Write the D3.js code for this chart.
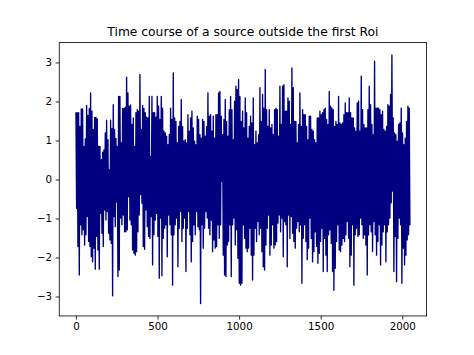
<!DOCTYPE html>
<html>
<head>
<meta charset="utf-8">
<script src="https://cdn.jsdelivr.net/npm/d3@7"></script>
<style>
  body { margin: 0; background: #fff; }
  svg { display: block; }
</style>
</head>
<body>
<svg></svg>
<script>
const title = 'Time course of a source outside the first Roi';
const nSamples = 2048;
const xTicks = [0, 500, 1000, 1500, 2000];
const yTicks = [-3, -2, -1, 0, 1, 2, 3];

// upper edge of the trace, read left to right off the picture
const peaks = [
    1.71, 1.71, 1.71, 1.36, 1.81, 1.81, 0.85, 1.04, 1.90, 1.64,
    1.82, 2.22, 1.75, 1.28, 1.59, 1.59, 1.55, 0.85, 0.85, 0.51,
    0.70, 0.76, 1.19, 1.52, 1.02, 0.25, 1.52, 1.31, 1.92, 1.28,
    1.05, 0.85, 2.13, 2.13, 0.94, 1.82, 1.82, 1.85, 2.62, 2.22,
    1.88, 1.91, 1.41, 1.58, 0.85, 1.71, 1.79, 1.75, 2.69, 1.28,
    1.90, 1.82, 1.71, 1.60, 1.58, 2.13, 0.59, 2.13, 1.71, 1.71,
    1.60, 2.13, 1.88,
    1.54, 2.13, 1.83, 1.24, 1.19, 1.11, 0.89, 1.15, 1.83, 1.54,
    2.73, 1.58, 1.49, 0.94, 1.36, 1.49, 2.05, 1.36, 0.98, 1.02,
    0.94, 1.66, 1.24, 1.58, 1.75, 1.32, 0.98, 0.89, 1.62, 1.54,
    1.15, 1.06, 1.54, 1.49, 1.11, 1.36, 2.22, 1.62, 1.66, 1.24,
    1.62, 1.06, 1.66, 1.66, 2.22, 2.26, 1.62, 1.15, 1.54, 2.05,
    1.49, 1.11, 1.79, 2.13, 1.79, 1.02, 2.01, 2.39, 2.31, 2.56,
    2.13, 1.49, 1.75, 1.32, 2.09, 1.71, 1.06, 1.36, 1.62, 1.45,
    2.09, 0.89, 1.24, 0.94, 1.15, 2.35, 1.49, 2.18, 1.83, 2.82,
    1.79, 1.36, 1.79, 1.32, 1.41, 1.15, 1.79, 1.83, 1.79, 1.11,
    2.39, 1.41,
    2.39, 2.43, 1.75, 1.75, 2.09, 2.01, 1.41, 2.86, 2.35, 1.49,
    1.49, 0.94, 1.41, 2.22, 1.36, 1.79, 1.66, 1.66, 1.36, 1.02,
    1.62, 1.62, 1.28, 1.24, 1.02, 0.94, 1.58, 1.58, 1.75, 1.66,
    1.71, 1.79, 1.83, 1.54, 1.41, 2.26, 1.88, 1.83, 1.79, 1.36,
    1.49, 1.41, 2.13, 1.45, 1.41, 1.45, 1.66, 1.96, 1.71, 1.71,
    2.09, 1.71, 1.58, 1.58, 1.32, 1.24, 1.96, 2.01, 1.24, 2.65,
    1.79, 1.41, 1.32, 1.32, 1.79, 2.39, 1.92, 1.41, 1.15, 3.03,
    1.83, 1.83, 1.83, 1.79, 1.66, 1.75, 1.28, 1.24, 1.36, 1.92,
    1.88, 2.18, 3.19, 1.58, 1.19, 1.15, 0.98, 1.41, 1.45, 1.83,
    1.19, 0.89, 1.06, 1.49, 1.88, 1.83
];

// lower edge of the trace, same columns
const troughs = [
    -0.74, -1.72, -2.45, -1.16, -1.42, -1.29, -1.68, -1.42, -0.95, -1.59,
    -1.72, -1.98, -2.11, -1.76, -2.30, -1.46, -1.81, -2.30, -0.87, -1.38,
    -1.72, -0.78, -1.04, -0.82, -1.38, -1.55, -1.64, -2.98, -0.95, -1.21,
    -0.57, -2.49, -2.32, -0.99, -1.16, -0.91, -1.34, -1.34, -1.29, -0.44,
    -1.04, -1.16, -1.81, -1.89, -1.94, -1.85, -1.34, -0.91, -0.39, -0.61,
    -1.72, -1.79, -0.78, -1.21, -1.46, -1.51, -0.95, -2.19, -1.42, -1.04,
    -0.87, -1.46, -2.53,
    -0.99, -2.47, -1.51, -1.25, -1.16, -1.98, -0.91, -1.16, -1.42,
    -2.71, -1.42, -1.16, -0.99, -2.24, -1.25, -0.82, -1.59, -1.25, -0.99,
    -2.36, -1.25, -0.82, -1.42, -2.11, -1.59, -1.16, -1.42, -0.82, -1.21, -1.29,
    -3.18, -1.16, -1.76, -1.25, -0.82, -0.99, -1.25, -1.42, -1.04, -1.85,
    -1.55, -1.76, -1.72, -1.16, -1.51, -1.16, -0.05, -1.94, -2.45, -2.49,
    -1.68, -1.59, -1.16, -2.49, -1.16, -0.99, -1.68, -1.29, -2.02, -2.66,
    -2.71, -2.66, -1.16, -1.51, -1.76, -1.85, -1.76, -1.25, -1.94, -2.58,
    -1.94, -1.25, -1.59, -1.08, -1.42, -1.25, -1.85, -2.24, -2.32, -1.68,
    -1.25, -0.91, -1.94, -1.68, -1.16, -1.76, -1.68, -1.59, -1.12, -0.91,
    -1.34, -0.99,
    -1.98, -1.08, -1.16, -2.24, -0.91, -1.51, -0.95, -1.38, -1.59, -1.76,
    -1.25, -1.08, -1.34, -1.16,
    -2.66, -1.51, -1.16, -1.59, -2.06, -1.76, -0.99, -1.51, -2.11, -1.85,
    -1.34, -1.72, -2.15, -1.89, -1.59, -1.25, -2.36, -1.51, -1.94, -2.36,
    -1.42, -1.29, -1.64, -2.36, -2.84, -2.28, -1.59, -1.16, -1.81, -1.85,
    -1.68, -1.51, -1.59, -1.42, -1.08, -1.51, -2.24, -1.94, -1.16, -2.71,
    -1.42, -1.25, -1.46, -1.42, -0.99, -1.16, -1.51, -1.42, -1.68,
    -2.45, -1.42, -1.16, -1.34, -1.85, -1.08, -1.42, -1.94, -1.59, -1.16,
    -2.19, -1.68, -1.34, -1.16, -2.11, -1.34, -1.16, -0.99, -0.60, -0.30,
    -2.36, -1.46, -2.62, -1.51, -0.99, -1.16,
    -2.66, -1.76, -2.19, -1.94, -1.55, -1.42, -1.16
];

const svgWidth = 474;
const svgHeight = 355;
const margin = { top: 42.6, right: 47.4, bottom: 39.05, left: 59.25 };
const width = svgWidth - margin.left - margin.right;
const height = svgHeight - margin.top - margin.bottom;

// zig-zag between the two edges, like the dense trace
const signal = peaks.flatMap((p, i) => [p, troughs[i]]);
const points = signal.map((v, k) => ({ t: k * (nSamples - 1) / (signal.length - 1), v: v }));

const svg = d3.select('svg')
    .attr('width', svgWidth)
    .attr('height', svgHeight)
    .style('font-family', '"DejaVu Sans", sans-serif');

const g = svg.append('g')
    .attr('transform', `translate(${margin.left}, ${margin.top})`);

const pad = 0.05 * (nSamples - 1);
const xScale = d3.scaleLinear()
    .domain([-pad, nSamples - 1 + pad])
    .range([0, width]);

const [vMin, vMax] = d3.extent(signal);
const vPad = 0.05 * (vMax - vMin);
const yScale = d3.scaleLinear()
    .domain([vMin - vPad, vMax + vPad])
    .range([height, 0]);

const line = d3.line()
    .x(d => xScale(d.t))
    .y(d => yScale(d.v));

g.append('path')
    .datum(points)
    .attr('fill', 'none')
    .attr('stroke', '#000080')
    .attr('stroke-width', 1.35)
    .attr('stroke-linejoin', 'round')
    .attr('stroke-linecap', 'round')
    .attr('d', line);

const xAxis = g.append('g')
    .attr('transform', `translate(0, ${height})`)
    .call(d3.axisBottom(xScale).tickValues(xTicks).tickFormat(d3.format('d'))
        .tickSize(3.6).tickPadding(3.6).tickSizeOuter(0));

const yAxis = g.append('g')
    .call(d3.axisLeft(yScale).tickValues(yTicks).tickFormat(d3.format('d'))
        .tickSize(3.6).tickPadding(3.6).tickSizeOuter(0));

[xAxis, yAxis].forEach(ax => {
    ax.select('.domain').remove();
    ax.attr('font-family', '"DejaVu Sans", sans-serif').attr('font-size', 10.3);
    ax.selectAll('line').attr('stroke', '#000').attr('stroke-width', 0.82);
    ax.selectAll('text').attr('fill', '#000');
});

g.append('rect')
    .attr('width', width)
    .attr('height', height)
    .attr('fill', 'none')
    .attr('stroke', '#000')
    .attr('stroke-width', 0.82);

svg.append('text')
    .attr('x', margin.left + width / 2)
    .attr('y', 36.2)
    .attr('text-anchor', 'middle')
    .attr('font-size', 12.3)
    .attr('fill', '#000')
    .text(title);
</script>
</body>
</html>
